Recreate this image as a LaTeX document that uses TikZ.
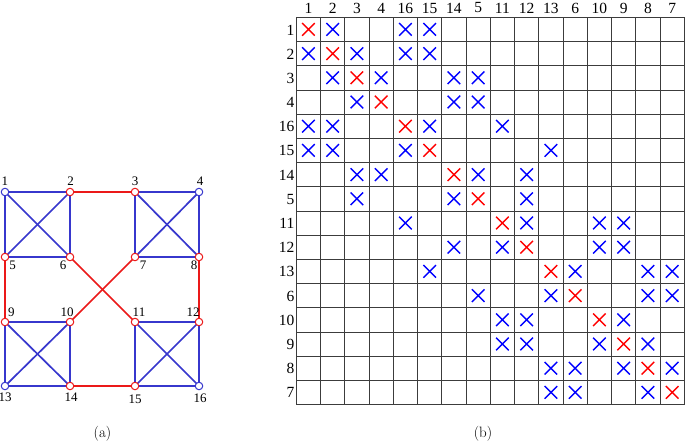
\documentclass[tikz,border=0pt]{standalone}
\usepackage{tikz}
\usepackage{fontspec}
\newfontfamily\numfont{Liberation Serif}
\definecolor{gblue}{RGB}{55,55,205}
\definecolor{gred}{RGB}{235,25,25}
\definecolor{xblue}{RGB}{0,0,255}
\definecolor{xred}{RGB}{255,0,0}
\definecolor{gridc}{RGB}{60,60,60}
\tikzset{
  vtx/.style={circle,draw,fill=white,minimum size=7.5pt,inner sep=0pt,line width=1pt},
  vb/.style={vtx,draw=gblue},
  vr/.style={vtx,draw=gred},
  eb/.style={draw=gblue,line width=1.4pt},
  ebd/.style={draw=gblue,line width=1.7pt},
  er/.style={draw=gred,line width=1.4pt},
  erd/.style={draw=gred,line width=1.7pt},
  lbl/.style={font=\numfont\fontsize{13}{14}\selectfont,inner sep=0.5pt},
  mlbl/.style={font=\numfont\fontsize{15.5}{16}\selectfont,inner sep=0pt},
  captxt/.style={font=\fontsize{15}{16}\selectfont},
  crossb/.style={draw=xblue,line width=1.4pt},
  crossr/.style={draw=xred,line width=1.4pt}
}
\begin{document}
\begin{tikzpicture}[x=1pt,y=-1pt]
\useasboundingbox (0,0) rectangle (685,444);
% ---------- graph (a)
\def\xa{5}\def\xb{70}\def\xc{135}\def\xd{199}
\def\ya{192}\def\yb{257}\def\yc{322}\def\yd{386}
\coordinate (p1) at (\xa,\ya); \coordinate (p2) at (\xb,\ya);
\coordinate (p3) at (\xc,\ya); \coordinate (p4) at (\xd,\ya);
\coordinate (p5) at (\xa,\yb); \coordinate (p6) at (\xb,\yb);
\coordinate (p7) at (\xc,\yb); \coordinate (p8) at (\xd,\yb);
\coordinate (p9) at (\xa,\yc); \coordinate (p10) at (\xb,\yc);
\coordinate (p11) at (\xc,\yc); \coordinate (p12) at (\xd,\yc);
\coordinate (p13) at (\xa,\yd); \coordinate (p14) at (\xb,\yd);
\coordinate (p15) at (\xc,\yd); \coordinate (p16) at (\xd,\yd);
\foreach \a/\b in {1/2,1/5,2/6,5/6,3/4,3/7,4/8,7/8,
                   9/10,9/13,10/14,13/14,11/12,11/15,12/16,15/16}
  \draw[eb] (p\a) -- (p\b);
\foreach \a/\b in {1/6,2/5,3/8,4/7,9/14,10/13,11/16,12/15}
  \draw[ebd] (p\a) -- (p\b);
\foreach \a/\b in {2/3,5/9,8/12,14/15}
  \draw[er] (p\a) -- (p\b);
\foreach \a/\b in {6/11,7/10}
  \draw[erd] (p\a) -- (p\b);
\node[vb] (n1) at (p1) {};
\node[vr] (n2) at (p2) {};
\node[vr] (n3) at (p3) {};
\node[vb] (n4) at (p4) {};
\node[vr] (n5) at (p5) {};
\node[vr] (n6) at (p6) {};
\node[vr] (n7) at (p7) {};
\node[vr] (n8) at (p8) {};
\node[vr] (n9) at (p9) {};
\node[vr] (n10) at (p10) {};
\node[vr] (n11) at (p11) {};
\node[vr] (n12) at (p12) {};
\node[vb] (n13) at (p13) {};
\node[vr] (n14) at (p14) {};
\node[vr] (n15) at (p15) {};
\node[vb] (n16) at (p16) {};
\node[lbl] (l1) at (5,181) {1};
\node[lbl] (l2) at (70.5,181) {2};
\node[lbl] (l3) at (135,181) {3};
\node[lbl] (l4) at (200,181) {4};
\node[lbl] (l5) at (12.5,265.5) {5};
\node[lbl] (l6) at (63,265.5) {6};
\node[lbl] (l7) at (143,265.5) {7};
\node[lbl] (l8) at (194,265.5) {8};
\node[lbl] (l9) at (11.5,312) {9};
\node[lbl] (l10) at (67,312) {10};
\node[lbl] (l11) at (139,312) {11};
\node[lbl] (l12) at (193,312) {12};
\node[lbl] (l13) at (5,397.5) {13};
\node[lbl] (l14) at (71,397.5) {14};
\node[lbl] (l15) at (135,399) {15};
\node[lbl] (l16) at (200,398) {16};
\node[captxt] (capa) at (102.5,433.5) {(a)};
% ---------- matrix (b)
\def\mx{296.3}\def\my{17.3}\def\cw{24.25}\def\ch{24.2}
\foreach \i in {0,...,16} {
  \draw[gridc,line width=0.8pt] ({\mx+\i*\cw},\my) -- ({\mx+\i*\cw},{\my+16*\ch});
  \draw[gridc,line width=0.8pt] (\mx,{\my+\i*\ch}) -- ({\mx+16*\cw},{\my+\i*\ch});
}
\foreach \t [count=\k from 0] in {1,2,3,4,16,15,14,5,11,12,13,6,10,9,8,7} {
  \node[mlbl] (c\t) at ({\mx+(\k+0.5)*\cw},8) {\t};
  \node[mlbl,anchor=east] (r\t) at (294.5,{\my+(\k+0.5)*\ch+0.5}) {\t};
}
\def\d{6.3}
\foreach \r/\c in {0/1,0/4,0/5, 1/0,1/2,1/4,1/5, 2/1,2/3,2/6,2/7, 3/2,3/6,3/7,
  4/0,4/1,4/5,4/8, 5/0,5/1,5/4,5/10, 6/2,6/3,6/7,6/9, 7/2,7/6,7/9,
  8/4,8/9,8/12,8/13, 9/6,9/8,9/12,9/13, 10/5,10/11,10/14,10/15,
  11/7,11/10,11/14,11/15, 12/8,12/9,12/13, 13/8,13/9,13/12,13/14,
  14/10,14/11,14/13,14/15, 15/10,15/11,15/14} {
  \draw[crossb] ({\mx+(\c+0.5)*\cw-\d},{\my+(\r+0.5)*\ch-\d}) -- ++(2*\d,2*\d)
                ({\mx+(\c+0.5)*\cw-\d},{\my+(\r+0.5)*\ch+\d}) -- ++(2*\d,-2*\d);
}
\foreach \i in {0,...,15} {
  \draw[crossr] ({\mx+(\i+0.5)*\cw-\d},{\my+(\i+0.5)*\ch-\d}) -- ++(2*\d,2*\d)
                ({\mx+(\i+0.5)*\cw-\d},{\my+(\i+0.5)*\ch+\d}) -- ++(2*\d,-2*\d);
}
\node[captxt] (capb) at (483,433.5) {(b)};
\end{tikzpicture}
\end{document}
